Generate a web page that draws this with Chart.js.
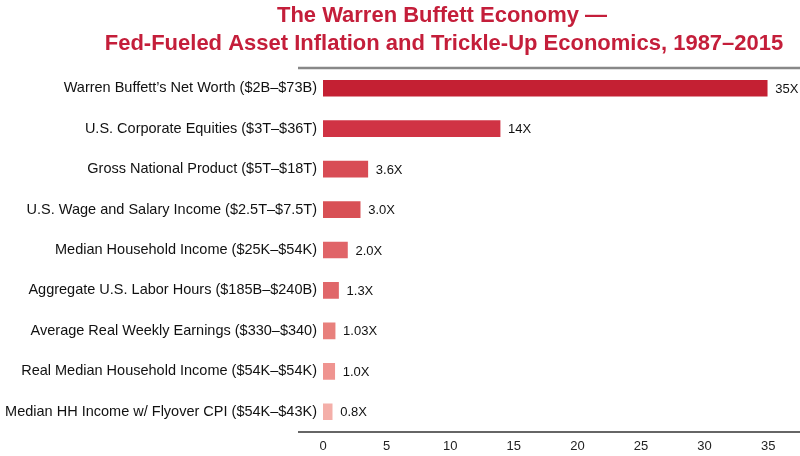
<!DOCTYPE html>
<html>
<head>
<meta charset="utf-8">
<script src="https://cdn.jsdelivr.net/npm/chart.js@4.4.1/dist/chart.umd.min.js"></script>
<style>
  html, body { margin: 0; padding: 0; background: #fff; }
  #wrap { width: 800px; height: 456px; }
</style>
</head>
<body>
<div id="wrap"><canvas id="grafico"></canvas></div>
<script>
const categorias = [
  'Warren Buffett\u2019s Net Worth ($2B\u2013$73B)',
  'U.S. Corporate Equities ($3T\u2013$36T)',
  'Gross National Product ($5T\u2013$18T)',
  'U.S. Wage and Salary Income ($2.5T\u2013$7.5T)',
  'Median Household Income ($25K\u2013$54K)',
  'Aggregate U.S. Labor Hours ($185B\u2013$240B)',
  'Average Real Weekly Earnings ($330\u2013$340)',
  'Real Median Household Income ($54K\u2013$54K)',
  'Median HH Income w/ Flyover CPI ($54K\u2013$43K)'
];
const multiplos = [35, 14, 3.6, 3.0, 2.0, 1.3, 1.03, 1.0, 0.8];
const rotulos = ['35X', '14X', '3.6X', '3.0X', '2.0X', '1.3X', '1.03X', '1.0X', '0.8X'];
const ticksX = [0, 5, 10, 15, 20, 25, 30, 35];
const cores = ['#c42033', '#d03344', '#d84c55', '#d85055', '#e06468', '#e0676a', '#e8807c', '#ef9490', '#f4afa9'];

const titulo = ['The Warren Buffett Economy \u2014', 'Fed-Fueled Asset Inflation and Trickle-Up Economics, 1987\u20132015'];

// escreve uma linha centrada, apertando na horizontal se passar da largura
function linhaTitulo(ctx, texto, cx, y, largura) {
  const w = ctx.measureText(texto).width;
  const s = Math.min(1, largura / w);
  ctx.save();
  ctx.translate(cx, y);
  ctx.scale(s, 1);
  ctx.fillText(texto, 0, 0);
  ctx.restore();
}

// titulo, linhas de cima/baixo e valores na ponta das barras
const pluginExtras = {
  id: 'extras',
  afterDraw(chart) {
    const ctx = chart.ctx;
    const area = chart.chartArea;
    ctx.save();

    ctx.fillStyle = '#c41e3a';
    ctx.font = 'bold 22px "Liberation Sans"';
    ctx.textAlign = 'center';
    ctx.textBaseline = 'alphabetic';
    linhaTitulo(ctx, titulo[0], 442, 21.5, 330);
    linhaTitulo(ctx, titulo[1], 444, 50, 680);

    ctx.strokeStyle = '#888';
    ctx.lineWidth = 2.5;
    ctx.beginPath();
    ctx.moveTo(298, area.top);
    ctx.lineTo(800, area.top);
    ctx.stroke();

    ctx.strokeStyle = '#333';
    ctx.lineWidth = 1.5;
    ctx.beginPath();
    ctx.moveTo(298, area.bottom);
    ctx.lineTo(800, area.bottom);
    ctx.stroke();

    ctx.fillStyle = '#111';
    ctx.font = '13px "Liberation Sans"';
    ctx.textAlign = 'left';
    ctx.textBaseline = 'middle';
    chart.getDatasetMeta(0).data.forEach((barra, i) => {
      ctx.fillText(rotulos[i], barra.x + 7, barra.y + 1);
    });
    ctx.restore();
  }
};

new Chart(document.getElementById('grafico').getContext('2d'), {
  type: 'bar',
  data: {
    labels: categorias,
    datasets: [{
      data: multiplos,
      backgroundColor: cores,
      borderColor: 'rgba(255,255,255,0.35)',
      borderWidth: 1,
      barThickness: 18
    }]
  },
  options: {
    indexAxis: 'y',
    responsive: true,
    maintainAspectRatio: false,
    animation: false,
    layout: { padding: { top: 68, right: 0, left: 0, bottom: 0 } },
    plugins: {
      legend: { display: false },
      tooltip: { enabled: false }
    },
    scales: {
      x: {
        min: 0,
        max: 37.5,
        afterBuildTicks(scale) { scale.ticks = ticksX.map(v => ({ value: v })); },
        afterFit(scale) { scale.height = 24; },
        grid: { display: false, drawTicks: false },
        border: { display: false },
        ticks: {
          padding: 7,
          color: '#222',
          font: { family: 'Liberation Sans', size: 13 }
        }
      },
      y: {
        afterFit(scale) { scale.width = 323; },
        grid: { display: false, drawTicks: false },
        border: { display: false },
        ticks: {
          padding: 6,
          color: '#111',
          font: { family: 'Liberation Sans', size: 14.5 }
        }
      }
    }
  },
  plugins: [pluginExtras]
});
</script>
</body>
</html>
